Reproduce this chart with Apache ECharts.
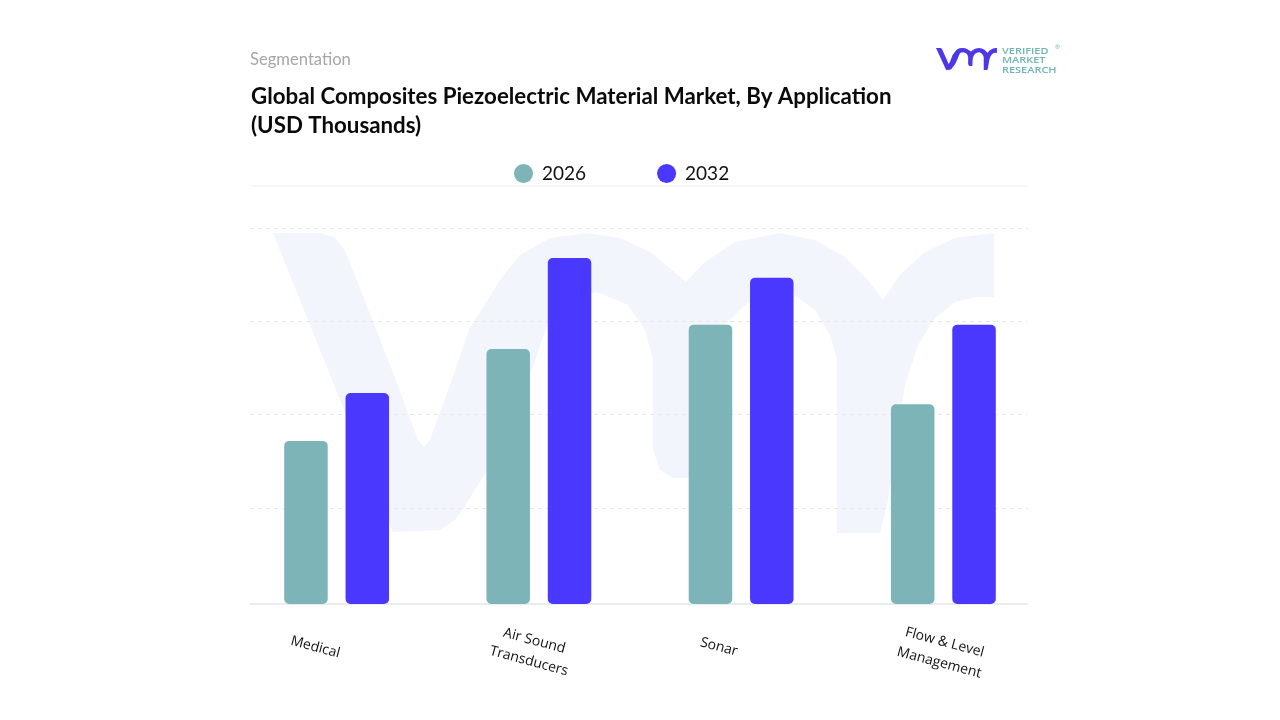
<!DOCTYPE html>
<html>
<head>
<meta charset="utf-8">
<style>html,body{margin:0;padding:0;background:#fff}#chart_view{width:1280px;height:720px}</style>
<script src="https://cdn.jsdelivr.net/npm/echarts@6/dist/echarts.min.js"></script>
</head>
<body>
<div id="chart_view"></div>
<script>
var categories = ['Medical', 'Air Sound\nTransducers', 'Sonar', 'Flow & Level\nManagement'];
var values2026 = [174, 272, 298, 213];
var values2032 = [225, 369, 348, 298];
var gridTicks = [100, 200, 300, 400];
// how far each label sits left of its group in the reference
var labelShift = [44, 15, 46, 3];

// outline of the brand mark, used for the watermark and scaled down for the logo
var brandMark = [
    [273, 233], [322, 233], [335, 238], [345, 250], [352, 268], [390, 365], [418, 440], [424, 447],
    [430, 440], [450, 385], [469, 330], [500, 280], [520, 255], [550, 238], [587, 233], [620, 238],
    [650, 252], [672, 270], [686, 282], [705, 262], [735, 242], [780, 233], [815, 240], [845, 257],
    [868, 280], [883, 300], [900, 275], [925, 252], [955, 238], [994, 233], [994, 297], [975, 297],
    [955, 302], [935, 318], [918, 345], [905, 385], [895, 450], [888, 500], [880, 533], [837, 533],
    [837, 360], [830, 335], [815, 310], [790, 292], [765, 296], [745, 305], [725, 325], [712, 355],
    [705, 400], [703, 478], [673, 478], [660, 470], [653, 450], [653, 360], [645, 330], [628, 305],
    [597, 292], [575, 295], [556, 305], [542, 340], [525, 390], [500, 450], [464, 507], [455, 520],
    [440, 530], [393, 532]
];

var myChart = echarts.init(document.getElementById('chart_view'));

function rule(y, color, width) {
    return {
        type: 'line', silent: true, z: 0,
        shape: { x1: 250, y1: y, x2: 1028, y2: y },
        style: { stroke: color, lineWidth: width }
    };
}

var logoScaleX = 61 / 721;
var logoScaleY = 22 / 300;

var option = {
    animation: false,
    backgroundColor: '#fff',
    title: [
        {
            text: 'Segmentation', left: 245, top: 46,
            textStyle: { fontFamily: 'Lato', fontSize: 16.6, fontWeight: 'normal', color: '#a6a6a6' }
        },
        {
            text: 'Global Composites Piezoelectric Material Market, By Application\n(USD Thousands)',
            left: 246, top: 77,
            textStyle: { fontFamily: 'Lato', fontSize: 22.3, fontWeight: 'bold', color: '#0a0a0a', lineHeight: 29 }
        }
    ],
    legend: {
        left: 514, top: 164, padding: 0, icon: 'circle', itemWidth: 19, itemHeight: 19, itemGap: 71,
        textStyle: { fontFamily: 'Lato', fontSize: 19, color: '#111', padding: [0, 0, 0, 4] },
        data: ['2026', '2032']
    },
    grid: [
        { left: 235.5, top: 229, width: 809, height: 375 },
        { left: 250, top: 228, width: 778, height: 280 }
    ],
    xAxis: [
        {
            type: 'category', gridIndex: 0,
            data: categories.map(function (c, i) {
                return {
                    value: c,
                    textStyle: {
                        align: 'center', verticalAlign: 'middle', padding: [0, labelShift[i], 0, 0],
                        fontFamily: 'Open Sans', fontSize: 14, color: '#111', lineHeight: 21
                    }
                };
            }),
            axisLine: { show: false }, axisTick: { show: false },
            axisLabel: { rotate: -15, margin: 49, interval: 0 }
        },
        { type: 'category', gridIndex: 1, data: categories, show: false }
    ],
    yAxis: [
        { type: 'value', gridIndex: 0, min: 0, max: 400, interval: 100, show: false, splitLine: { show: false } },
        {
            type: 'value', gridIndex: 1, min: gridTicks[0], max: gridTicks[3], interval: 100,
            axisLine: { show: false }, axisTick: { show: false }, axisLabel: { show: false },
            splitLine: { lineStyle: { color: '#e8e8e8', type: [4, 4], width: 1 } }
        }
    ],
    series: [
        {
            name: '2026', type: 'bar', xAxisIndex: 0, yAxisIndex: 0, data: values2026,
            barWidth: 43.5, barGap: '41%', itemStyle: { color: '#7cb4b8', borderRadius: 5 }
        },
        {
            name: '2032', type: 'bar', xAxisIndex: 0, yAxisIndex: 0, data: values2032,
            barWidth: 43.5, barGap: '41%', itemStyle: { color: '#4b38ff', borderRadius: 5 }
        }
    ],
    graphic: [
        // faint watermark behind the bars
        {
            type: 'polygon', silent: true, z: -1,
            shape: { points: brandMark },
            style: { fill: '#f3f5fc' }
        },
        rule(186, '#eeeeee', 1),
        rule(604, '#e9ecef', 2),
        // logo
        {
            type: 'polygon', silent: true, z: 1,
            x: 936 - 273 * logoScaleX, y: 48 - 233 * logoScaleY,
            scaleX: logoScaleX, scaleY: logoScaleY,
            shape: { points: brandMark },
            style: { fill: '#4d38e8' }
        },
        {
            type: 'text', silent: true, x: 1002, y: 46.5, scaleX: 1.15,
            style: { text: 'VERIFIED\nMARKET\nRESEARCH', fontFamily: 'Open Sans', fontWeight: 600, fontSize: 9.5, lineHeight: 9.5, fill: '#6fb5b5' }
        },
        {
            type: 'text', silent: true, x: 1055, y: 44,
            style: { text: '®', fontFamily: 'Open Sans', fontSize: 6, fill: '#6fb5b5' }
        }
    ]
};

myChart.setOption(option);
</script>
</body>
</html>
